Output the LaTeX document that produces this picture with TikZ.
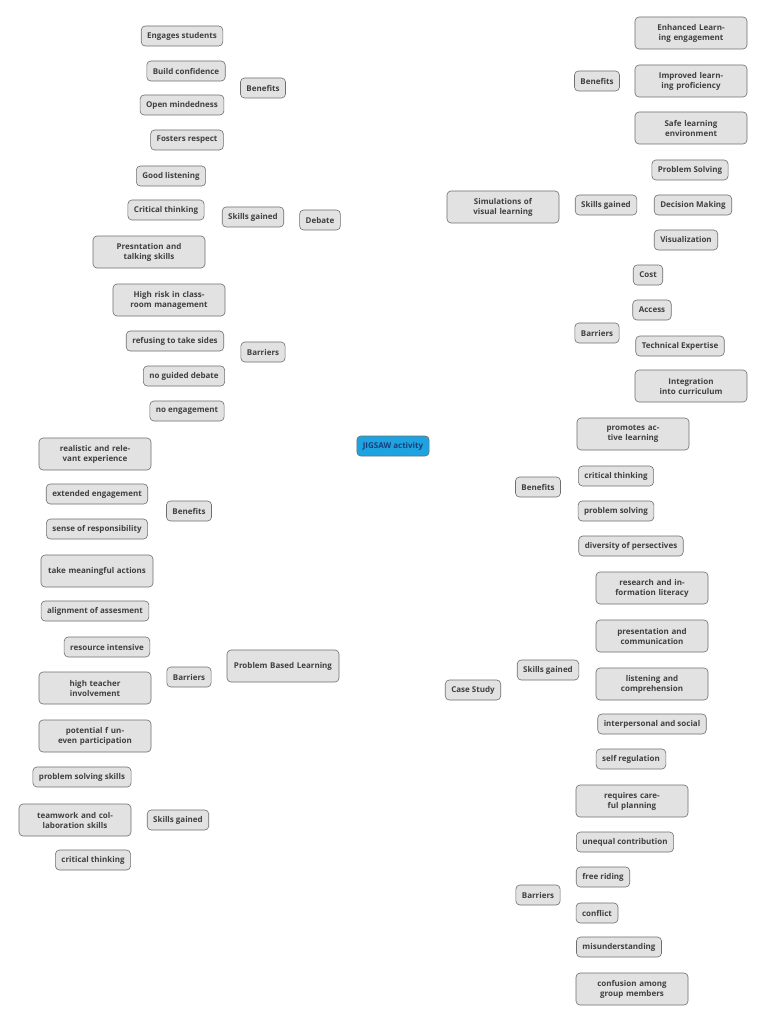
\documentclass[tikz,border=0pt]{standalone}
\usepackage{fontspec}
\setmainfont{Open Sans}
\usetikzlibrary{backgrounds}
\definecolor{boxfill}{HTML}{E2E2E2}
\definecolor{boxline}{HTML}{6E6E6E}
\definecolor{central}{HTML}{1FA3E0}
\definecolor{centraltext}{HTML}{1A3D7A}
\tikzset{
  tb/.style={draw=boxline, fill=boxfill, rounded corners=4pt, line width=0.6pt,
    font=\fontsize{8}{10}\selectfont\bfseries, text=black!75, minimum height=20pt, inner xsep=6pt, inner ysep=3pt},
  tw/.style={tb, text width=100pt, align=center, minimum height=32pt},
  cen/.style={tb, fill=central, text=centraltext, draw=boxline},
  ln/.style={draw=black!65, line width=0.6pt}
}
\newcommand{\conL}[2]{\draw[ln] (#1.center) .. controls (#1.center |- #2.east) .. (#2.east);}
\newcommand{\conR}[2]{\draw[ln] (#1.center) .. controls (#1.center |- #2.west) .. (#2.west);}
\begin{document}
\begin{tikzpicture}[x=1pt,y=-1pt]
\useasboundingbox[fill=white] (0,0) rectangle (768,1024);
\node[cen] (c) at (393,446) {JIGSAW activity};
% Debate
\node[tb] (d) at (320,220) {Debate};
\node[tb] (db) at (263,88) {Benefits};
\node[tb] (db1) at (182,36) {Engages students};
\node[tb] (db2) at (186,71) {Build confidence};
\node[tb] (db3) at (182,105) {Open mindedness};
\node[tb] (db4) at (187,140) {Fosters respect};
\node[tb] (ds) at (253,217) {Skills gained};
\node[tb] (ds1) at (171,176) {Good listening};
\node[tb] (ds2) at (166,210) {Critical thinking};
\node[tw] (ds3) at (149,252) {Presntation and talking skills};
\node[tb] (dr) at (263,352) {Barriers};
\node[tw] (dr1) at (169,300) {High risk in classroom management};
\node[tb] (dr2) at (175,341) {refusing to take sides};
\node[tb] (dr3) at (184,376) {no guided debate};
\node[tb] (dr4) at (187,411) {no engagement};
% Simulations
\node[tw] (s) at (503,207) {Simulations of visual learning};
\node[tb] (sb) at (597,81) {Benefits};
\node[tw] (sb1) at (691,33) {Enhanced Learning engagement};
\node[tw] (sb2) at (691,81) {Improved learning proficiency};
\node[tw] (sb3) at (691,128) {Safe learning environment};
\node[tb] (ss) at (606,205) {Skills gained};
\node[tb] (ss1) at (690,170) {Problem Solving};
\node[tb] (ss2) at (693,205) {Decision Making};
\node[tb] (ss3) at (686,240) {Visualization};
\node[tb] (sr) at (597,333) {Barriers};
\node[tb] (sr1) at (648,275) {Cost};
\node[tb] (sr2) at (652,310) {Access};
\node[tb] (sr3) at (680,346) {Technical Expertise};
\node[tw] (sr4) at (691,386) {Integration into curriculum};
% PBL
\node[tw] (p) at (283,666) {Problem Based Learning};
\node[tb] (pb) at (189,511) {Benefits};
\node[tw] (pb1) at (95,454) {realistic and relevant experience};
\node[tb] (pb2) at (97,494) {extended engagement};
\node[tb] (pb3) at (97,529) {sense of responsibility};
\node[tw] (pb4) at (97,571) {take meaningful actions};
\node[tb] (pr) at (189,677) {Barriers};
\node[tb] (pr1) at (95,611) {alignment of assesment};
\node[tb] (pr2) at (107,647) {resource intensive};
\node[tw] (pr3) at (95,688) {high teacher involvement};
\node[tw] (pr4) at (95,736) {potential f uneven participation};
\node[tb] (ps) at (178,820) {Skills gained};
\node[tb] (ps1) at (82,777) {problem solving skills};
\node[tw] (ps2) at (75,820) {teamwork and collaboration skills};
\node[tb] (ps3) at (93,860) {critical thinking};
% Case study
\node[tb] (k) at (473,690) {Case Study};
\node[tb] (kb) at (538,487) {Benefits};
\node[tw] (kb1) at (633,434) {promotes active learning};
\node[tb] (kb2) at (616,476) {critical thinking};
\node[tb] (kb3) at (616,511) {problem solving};
\node[tb] (kb4) at (631,546) {diversity of persectives};
\node[tb] (ks) at (548,670) {Skills gained};
\node[tw] (ks1) at (652,588) {research and information literacy};
\node[tw] (ks2) at (652,636) {presentation and communication};
\node[tw] (ks3) at (652,684) {listening and comprehension};
\node[tb] (ks4) at (652,724) {interpersonal and social};
\node[tb] (ks5) at (631,759) {self regulation};
\node[tb] (kr) at (538,895) {Barriers};
\node[tw] (kr1) at (632,801) {requires careful planning};
\node[tb] (kr2) at (625,842) {unequal contribution};
\node[tb] (kr3) at (603,877) {free riding};
\node[tb] (kr4) at (597,913) {conflict};
\node[tb] (kr5) at (619,947) {misunderstanding};
\node[tw] (kr6) at (632,989) {confusion among group members};
\begin{scope}[on background layer]
\conL{c}{d}\conL{c}{p}\conR{c}{s}\conR{c}{k}
\conL{d}{db}\conL{d}{ds}\conL{d}{dr}
\conL{db}{db1}\conL{db}{db2}\conL{db}{db3}\conL{db}{db4}
\conL{ds}{ds1}\conL{ds}{ds2}\conL{ds}{ds3}
\conL{dr}{dr1}\conL{dr}{dr2}\conL{dr}{dr3}\conL{dr}{dr4}
\conR{s}{sb}\conR{s}{ss}\conR{s}{sr}
\conR{sb}{sb1}\conR{sb}{sb2}\conR{sb}{sb3}
\conR{ss}{ss1}\conR{ss}{ss2}\conR{ss}{ss3}
\conR{sr}{sr1}\conR{sr}{sr2}\conR{sr}{sr3}\conR{sr}{sr4}
\conL{p}{pb}\conL{p}{pr}\conL{p}{ps}
\conL{pb}{pb1}\conL{pb}{pb2}\conL{pb}{pb3}\conL{pb}{pb4}
\conL{pr}{pr1}\conL{pr}{pr2}\conL{pr}{pr3}\conL{pr}{pr4}
\conL{ps}{ps1}\conL{ps}{ps2}\conL{ps}{ps3}
\conR{k}{kb}\conR{k}{ks}\conR{k}{kr}
\conR{kb}{kb1}\conR{kb}{kb2}\conR{kb}{kb3}\conR{kb}{kb4}
\conR{ks}{ks1}\conR{ks}{ks2}\conR{ks}{ks3}\conR{ks}{ks4}\conR{ks}{ks5}
\conR{kr}{kr1}\conR{kr}{kr2}\conR{kr}{kr3}\conR{kr}{kr4}\conR{kr}{kr5}\conR{kr}{kr6}
\end{scope}
\end{tikzpicture}
\end{document}
